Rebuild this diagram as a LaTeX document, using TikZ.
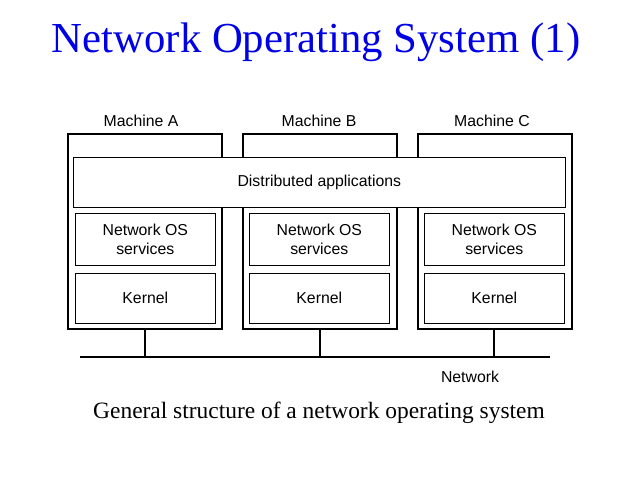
\documentclass[tikz,border=0pt]{standalone}
\usepackage{fontspec}
\newfontfamily\sansf{Liberation Sans}
\newfontfamily\seriff{Liberation Serif}
\usetikzlibrary{positioning}
\tikzset{
    machine/.style={draw, line width=1.3pt, minimum width=4.62cm, minimum height=5.85cm, inner sep=0pt},
    layer/.style={draw, fill=white, line width=0.5pt, inner sep=0pt, font=\sansf\fontsize{13.5pt}{15.5pt}\selectfont, align=center},
    lbl/.style={font=\sansf\fontsize{13.5pt}{15pt}\selectfont}
}
\begin{document}
\begin{tikzpicture}[x=0.03cm, y=-0.03cm]
    \useasboundingbox (0,0) rectangle (638,479);
    % Title
    \node[text=blue!90!black, font=\seriff\fontsize{36.5pt}{40pt}\selectfont] (title) at (316,42) {Network Operating System (1)};

    % Machines
    \node[machine, anchor=north west] (machA) at (67,133) {};
    \node[machine, anchor=north west] (machB) at (242,133) {};
    \node[machine, anchor=north west] (machC) at (417,133) {};
    \node[lbl] (la) at (141,121) {Machine A};
    \node[lbl] (lb) at (319,121) {Machine B};
    \node[lbl] (lc) at (492,121) {Machine C};

    % Distributed applications
    \node[layer, minimum width=14.76cm, minimum height=1.5cm, anchor=north west] (apps) at (73,157) {Distributed applications};

    % Services and kernels
    \foreach \x/\n in {75/A, 249/B, 424/C} {
        \node[layer, minimum width=4.2cm, minimum height=1.56cm, anchor=north west] (os\n) at (\x,213) {Network OS\\services};
        \node[layer, minimum width=4.2cm, minimum height=1.5cm, anchor=north west] (kern\n) at (\x,273) {Kernel};
    }

    % Network
    \coordinate (netL) at (80,357);
    \coordinate (netR) at (550,357);
    \draw[line width=2pt] (netL) -- (netR);
    \foreach \n/\x in {A/145, B/320, C/494} {
        \coordinate (tap\n) at (\x,357);
        \draw[line width=1.3pt] (mach\n.south -| tap\n) -- (tap\n);
    }
    \node[lbl] (net) at (470,377) {Network};

    % Caption
    \node[font=\seriff\fontsize{20pt}{23pt}\selectfont] (cap) at (319,413) {General structure of a network operating system};
\end{tikzpicture}
\end{document}
